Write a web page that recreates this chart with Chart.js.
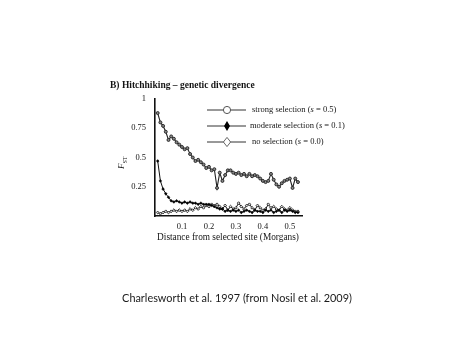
<!DOCTYPE html>
<html>
<head>
<meta charset="utf-8">
<script src="https://cdn.jsdelivr.net/npm/chart.js@4/dist/chart.umd.min.js"></script>
<style>
html,body{margin:0;padding:0;background:#fff;}
#wrap{position:relative;width:474px;height:355px;}
canvas{display:block;}
</style>
</head>
<body>
<div id="wrap"><canvas id="c" width="474" height="355"></canvas></div>
<script>
// Distance from selected site (Morgans)
const distance = [0.01,0.02,0.03,0.04,0.05,0.06,0.07,0.08,0.09,0.10,
  0.11,0.12,0.13,0.14,0.15,0.16,0.17,0.18,0.19,0.20,
  0.21,0.22,0.23,0.24,0.25,0.26,0.27,0.28,0.29,0.30,
  0.31,0.32,0.33,0.34,0.35,0.36,0.37,0.38,0.39,0.40,
  0.41,0.42,0.43,0.44,0.45,0.46,0.47,0.48,0.49,0.50,
  0.51,0.52,0.53];
// F_ST, strong selection (s = 0.5)
const strongSel = [0.88,0.80,0.77,0.72,0.65,0.68,0.66,0.63,0.61,0.59,
  0.57,0.58,0.53,0.50,0.47,0.48,0.46,0.44,0.41,0.42,
  0.39,0.40,0.24,0.37,0.30,0.35,0.39,0.39,0.37,0.36,
  0.37,0.35,0.36,0.34,0.36,0.34,0.35,0.34,0.32,0.30,
  0.29,0.30,0.36,0.31,0.27,0.25,0.28,0.30,0.31,0.32,
  0.24,0.32,0.29];
// F_ST, moderate selection (s = 0.1)
const moderateSel = [0.47,0.30,0.23,0.19,0.16,0.13,0.12,0.13,0.12,0.11,
  0.12,0.11,0.12,0.11,0.11,0.10,0.11,0.10,0.10,0.10,
  0.09,0.08,0.07,0.06,0.06,0.04,0.05,0.04,0.05,0.04,
  0.05,0.03,0.04,0.05,0.04,0.03,0.05,0.04,0.04,0.03,
  0.05,0.04,0.05,0.03,0.04,0.05,0.03,0.05,0.04,0.05,
  0.04,0.03,0.03];
// F_ST, no selection (s = 0.0)
const noSel = [0.03,0.02,0.03,0.04,0.03,0.04,0.05,0.04,0.05,0.04,
  0.05,0.04,0.06,0.05,0.07,0.06,0.08,0.07,0.09,0.08,
  0.10,0.09,0.10,0.08,0.06,0.09,0.05,0.08,0.06,0.07,
  0.11,0.08,0.06,0.09,0.10,0.07,0.05,0.09,0.07,0.05,
  0.06,0.10,0.07,0.08,0.06,0.05,0.08,0.06,0.05,0.07,
  0.05,0.04,0.04];
const xTicks = [0.1,0.2,0.3,0.4,0.5];
const yTicks = [0.25,0.5,0.75,1];
const yTickLabels = ['0.25','0.5','0.75','1'];
const legendLabels = ['strong selection (', 'moderate selection (', 'no selection ('];
const legendS = ['0.5','0.1','0.0'];
const titleText = 'B) Hitchhiking \u2013 genetic divergence';
const xTitle = 'Distance from selected site (Morgans)';
const caption = 'Charlesworth et al. 1997 (from Nosil et al. 2009)';

const pts = arr => arr.map((v,i)=>({x:distance[i], y:v}));
const serif = '"Liberation Serif", "Times New Roman", serif';
const ink = '#151515';

const deco = {
  id:'deco',
  afterDraw(chart){
    const ctx = chart.ctx;
    ctx.save();
    ctx.fillStyle = ink;
    ctx.textBaseline = 'middle';
    // title
    ctx.font = 'bold 9.5px ' + serif;
    ctx.textAlign = 'left';
    ctx.fillText(titleText, 110, 86);
    // F_ST rotated
    ctx.save();
    ctx.translate(122, 163);
    ctx.rotate(-Math.PI/2);
    ctx.font = 'italic 9px ' + serif;
    ctx.textAlign = 'left';
    ctx.fillText('F', -6, 0);
    const fw = ctx.measureText('F').width;
    ctx.font = '6px ' + serif;
    ctx.fillText('ST', -6 + fw, 3);
    ctx.restore();
    // legend
    const rows = [110, 126, 142];
    const textX = [252, 250, 252];
    rows.forEach((y,i)=>{
      ctx.strokeStyle = '#333';
      ctx.lineWidth = 1;
      ctx.beginPath(); ctx.moveTo(207, y); ctx.lineTo(246, y); ctx.stroke();
      const cx = 227;
      ctx.beginPath();
      if (i === 0) {
        ctx.arc(cx, y, 3.6, 0, Math.PI*2);
        ctx.fillStyle = '#fff'; ctx.fill(); ctx.strokeStyle = '#555'; ctx.stroke();
      } else {
        const w = i===1 ? 3 : 3.6, h = i===1 ? 5 : 4.6;
        ctx.moveTo(cx, y-h); ctx.lineTo(cx+w, y); ctx.lineTo(cx, y+h); ctx.lineTo(cx-w, y); ctx.closePath();
        if (i===1){ ctx.fillStyle = '#000'; ctx.fill(); }
        else { ctx.fillStyle = '#fff'; ctx.fill(); ctx.strokeStyle = '#666'; ctx.stroke(); }
      }
      ctx.fillStyle = ink;
      ctx.textAlign = 'left';
      let x = textX[i];
      ctx.font = '8.5px ' + serif;
      ctx.fillText(legendLabels[i], x, y); x += ctx.measureText(legendLabels[i]).width;
      ctx.font = 'italic 8.5px ' + serif;
      ctx.fillText('s', x, y); x += ctx.measureText('s').width;
      ctx.font = '8.5px ' + serif;
      const rest = ' = ' + legendS[i] + ')';
      ctx.fillText(rest, x, y);
    });
    // x axis title
    ctx.font = '9.3px ' + serif;
    ctx.textAlign = 'center';
    ctx.fillStyle = ink;
    ctx.fillText(xTitle, 228, 238);
    // caption
    ctx.font = '11px Lato, "Open Sans", sans-serif';
    const target = 230;
    const w0 = ctx.measureText(caption).width;
    const fs = 11 * target / w0;
    ctx.font = fs.toFixed(2) + 'px Lato, "Open Sans", sans-serif';
    ctx.fillStyle = '#1a1a1a';
    ctx.fillText(caption, 237, 298);
    ctx.restore();
  }
};

new Chart(document.getElementById('c'), {
  type: 'scatter',
  data: {
    datasets: [
      { label:'strong selection (s = 0.5)', data: pts(strongSel), showLine:true,
        borderColor:'#222', borderWidth:1.1, pointStyle:'circle', pointRadius:1.5,
        pointBackgroundColor:'#888', pointBorderColor:'#222', pointBorderWidth:0.9, tension:0 },
      { label:'moderate selection (s = 0.1)', data: pts(moderateSel), showLine:true,
        borderColor:'#111', borderWidth:1, pointStyle:'rectRot', pointRadius:1.4,
        pointBackgroundColor:'#000', pointBorderColor:'#000', pointBorderWidth:0.5, tension:0 },
      { label:'no selection (s = 0.0)', data: pts(noSel), showLine:true,
        borderColor:'#111', borderWidth:1, pointStyle:'rectRot', pointRadius:1.4,
        pointBackgroundColor:'#ddd', pointBorderColor:'#111', pointBorderWidth:0.8, tension:0 }
    ]
  },
  options: {
    responsive:false, animation:false, devicePixelRatio:1,
    layout:{ padding:{ left:100, top:99, right:172, bottom:114 } },
    plugins:{ legend:{display:false}, tooltip:{enabled:false}, title:{display:false} },
    scales:{
      x:{ type:'linear', min:0, max:0.545,
        grid:{display:false, drawTicks:false},
        border:{display:true, color:'#111', width:1.6},
        afterBuildTicks: s => { s.ticks = xTicks.map(v=>({value:v})); },
        afterFit: s => { s.height = 25; },
        ticks:{ font:{family:serif, size:8.5}, color:ink, padding:6, maxRotation:0,
          callback: v => String(v) }
      },
      y:{ type:'linear', min:0, max:1,
        grid:{display:false, drawTicks:false},
        border:{display:true, color:'#111', width:1.6},
        afterBuildTicks: s => { s.ticks = yTicks.map(v=>({value:v})); },
        afterFit: s => { s.width = 55; },
        ticks:{ font:{family:serif, size:8.5}, color:ink, padding:9,
          callback: v => yTickLabels[yTicks.indexOf(v)] }
      }
    }
  },
  plugins:[deco]
});
</script>
</body>
</html>
